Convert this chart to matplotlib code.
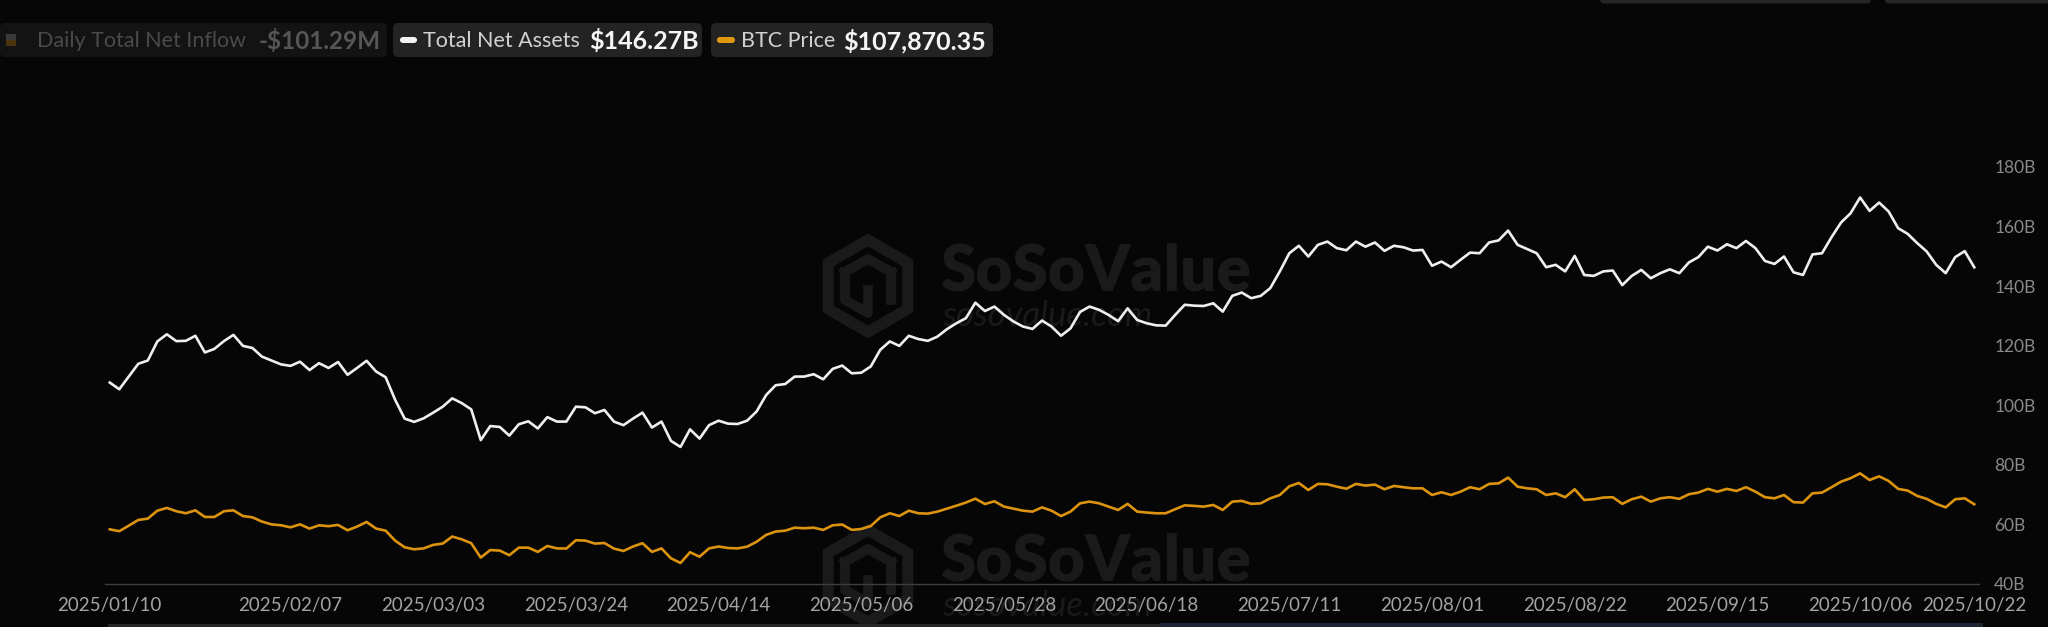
import numpy as np
import pandas as pd
import matplotlib
matplotlib.use('Agg')
import matplotlib.pyplot as plt
from matplotlib.patches import FancyBboxPatch, Rectangle, RegularPolygon

plt.rcParams['font.family'] = ['Lato', 'DejaVu Sans']

# trading days shown on the chart
start_date = '2025-01-10'
end_date = '2025-10-22'
us_holidays = ['2025-01-20', '2025-02-17', '2025-04-18', '2025-05-26',
               '2025-06-19', '2025-07-04', '2025-09-01']

tick_labels = ['2025/01/10', '2025/02/07', '2025/03/03', '2025/03/24', '2025/04/14',
               '2025/05/06', '2025/05/28', '2025/06/18', '2025/07/11', '2025/08/01',
               '2025/08/22', '2025/09/15', '2025/10/06', '2025/10/22']

# Total Net Assets (B USD)
total_net_assets = [
    107.6, 105.35, 109.6, 113.9, 115.0, 121.4, 123.8, 121.5, 121.6, 123.3,
    117.7, 118.9, 121.5, 123.6, 119.9, 119.2, 116.3, 115.0, 113.7, 113.2,
    114.6, 111.8, 114.1, 112.5, 114.5, 110.2, 112.5, 114.9, 111.3, 109.4,
    101.8, 95.5, 94.4, 95.6, 97.5, 99.5, 102.3, 100.7, 98.6, 88.3,
    93.0, 92.7, 89.8, 93.6, 94.6, 92.2, 96.0, 94.5, 94.5, 99.5,
    99.3, 97.3, 98.4, 94.5, 93.3, 95.5, 97.5, 92.5, 94.5, 88.0,
    86.0, 91.9, 88.8, 93.3, 94.8, 93.8, 93.7, 94.8, 97.9, 103.4,
    106.7, 107.1, 109.6, 109.6, 110.4, 108.7, 112.2, 113.3, 110.7, 110.9,
    113.0, 118.6, 121.4, 119.9, 123.3, 122.2, 121.6, 123.0, 125.5, 127.5,
    129.2, 134.4, 131.6, 133.1, 130.3, 128.1, 126.4, 125.6, 128.4, 126.4,
    123.3, 125.8, 131.3, 133.1, 132.0, 130.3, 128.2, 132.5, 128.6, 127.5,
    126.8, 126.7, 130.3, 133.7, 133.4, 133.3, 134.2, 131.4, 136.7, 137.8,
    135.9, 136.7, 139.3, 144.9, 151.0, 153.5, 149.9, 153.8, 154.9, 152.7,
    152.0, 154.9, 153.2, 154.6, 151.8, 153.5, 153.0, 151.9, 152.1, 146.8,
    148.2, 146.3, 148.8, 151.2, 151.0, 154.6, 155.3, 158.6, 153.8, 152.4,
    151.0, 146.3, 147.1, 144.9, 150.1, 143.7, 143.4, 144.9, 145.2, 140.3,
    143.4, 145.4, 142.6, 144.3, 145.6, 144.3, 147.9, 149.7, 153.2, 151.9,
    154.0, 152.7, 155.1, 152.7, 148.4, 147.4, 149.9, 144.6, 143.7, 150.6,
    151.0, 156.4, 161.3, 164.4, 169.7, 165.2, 168.0, 165.0, 159.4, 157.5,
    154.4, 151.6, 147.1, 144.3, 149.7, 151.7, 146.27,
]

# BTC price (thousand USD)
btc_price_k = [
    94.3, 93.3, 96.3, 99.4, 100.1, 104.4, 105.9, 104.1, 103.0, 104.6,
    101.0, 101.0, 104.1, 104.6, 101.5, 100.8, 98.5, 97.0, 96.5, 95.4,
    97.0, 94.7, 96.5, 96.0, 96.7, 93.8, 95.8, 98.3, 94.7, 93.6,
    88.2, 84.6, 83.5, 84.0, 85.9, 86.6, 90.4, 88.9, 86.8, 79.0,
    83.1, 82.8, 80.3, 84.4, 84.4, 82.1, 85.3, 84.0, 83.9, 88.4,
    88.2, 86.6, 86.9, 83.9, 82.6, 85.0, 86.8, 82.1, 84.0, 78.6,
    76.1, 81.9, 79.5, 84.0, 85.0, 84.2, 84.0, 84.9, 87.6, 91.3,
    93.1, 93.6, 95.2, 94.9, 95.2, 94.0, 96.5, 96.9, 94.0, 94.5,
    96.1, 100.8, 103.0, 101.5, 104.4, 103.0, 102.8, 103.9, 105.5, 107.1,
    108.8, 110.9, 108.0, 109.5, 106.6, 105.5, 104.4, 103.9, 106.2, 104.4,
    101.5, 103.9, 108.4, 109.3, 108.4, 106.6, 104.8, 108.1, 103.9, 103.4,
    103.0, 103.0, 105.2, 107.3, 107.0, 106.6, 107.5, 104.8, 109.3, 109.7,
    108.1, 108.4, 111.1, 112.9, 117.6, 119.4, 115.6, 118.9, 118.7, 117.4,
    116.3, 118.9, 118.0, 118.5, 116.0, 117.8, 117.1, 116.5, 116.5, 112.9,
    114.4, 112.9, 114.7, 117.1, 116.0, 118.9, 119.2, 122.3, 117.4, 116.5,
    116.0, 112.9, 113.8, 111.7, 116.0, 110.2, 110.6, 111.5, 111.7, 108.1,
    110.6, 112.0, 109.3, 111.1, 111.7, 110.8, 113.3, 114.2, 116.2, 114.7,
    116.2, 115.1, 117.1, 114.7, 111.7, 111.1, 112.9, 109.0, 108.8, 113.8,
    114.2, 117.1, 120.1, 122.0, 124.6, 121.0, 123.0, 120.5, 116.2, 115.3,
    112.4, 110.8, 108.1, 106.2, 110.6, 111.1, 107.87,
]

legend_inflow = '-$101.29M'
legend_assets = '$146.27B'
legend_btc = '$107,870.35'

dates = pd.bdate_range(start_date, end_date, freq='C', holidays=us_holidays)
date_str = [d.strftime('%Y/%m/%d') for d in dates]
x = np.arange(len(date_str))
tick_pos = [date_str.index(t) for t in tick_labels]

BG = '#060606'
W, H = 2048, 627
fig = plt.figure(figsize=(W / 100, H / 100), dpi=100, facecolor=BG)

# background layer in pixel coordinates (watermarks + legend)
bg = fig.add_axes([0, 0, 1, 1], zorder=0)
bg.set_xlim(0, W)
bg.set_ylim(H, 0)
bg.axis('off')

wm = '#1a1a1a'
for dy in (0, 290):
    bg.add_patch(RegularPolygon((868, 286 + dy), numVertices=6, radius=46,
                                orientation=0, fill=False, lw=8, ec=wm))
    bg.plot([845, 868, 891], [272 + dy, 259 + dy, 272 + dy], color=wm, lw=7)
    bg.plot([845, 845, 868, 868], [272 + dy, 300 + dy, 313 + dy, 290 + dy], color=wm, lw=7)
    bg.plot([891, 891], [272 + dy, 300 + dy], color=wm, lw=7)
    bg.text(940, 272 + dy, 'SoSoValue', color=wm, fontsize=46, fontweight='heavy',
            ha='left', va='center')
    bg.text(942, 316 + dy, 'sosovalue.com', color=wm, fontsize=25, style='italic',
            ha='left', va='center')

# legend chips
def chip(x0, x1, fc):
    bg.add_patch(FancyBboxPatch((x0, 23), x1 - x0, 34,
                                boxstyle='round,pad=0,rounding_size=5',
                                fc=fc, ec='none'))

chip(0, 387, '#131313')
bg.add_patch(Rectangle((6, 34), 10, 6, fc='#3a3a3a', ec='none'))
bg.add_patch(Rectangle((6, 40), 10, 6, fc='#4a3410', ec='none'))
bg.text(37, 41, 'Daily Total Net Inflow', color='#4a4a4a', fontsize=15.5, va='center')
bg.text(259, 41, legend_inflow, color='#565656', fontsize=17.5, fontweight='bold', va='center')

chip(393, 702, '#232323')
bg.add_patch(FancyBboxPatch((400, 37), 17, 6, boxstyle='round,pad=0,rounding_size=3',
                            fc='#f2f2f2', ec='none'))
bg.text(423, 41, 'Total Net Assets', color='#d2d2d2', fontsize=15.5, va='center')
bg.text(589, 41, legend_assets, color='#f5f5f5', fontsize=18, fontweight='bold', va='center')

chip(711, 993, '#232323')
bg.add_patch(FancyBboxPatch((717, 37), 18, 6, boxstyle='round,pad=0,rounding_size=3',
                            fc='#e09812', ec='none'))
bg.text(741, 41, 'BTC Price', color='#d2d2d2', fontsize=15.5, va='center')
bg.text(843, 41, legend_btc, color='#f5f5f5', fontsize=18, fontweight='bold', va='center')

# partial buttons at top right and range bar at the bottom
bg.add_patch(FancyBboxPatch((1600, -6), 271, 9.5, boxstyle='round,pad=0,rounding_size=4',
                            fc='#262626', ec='none'))
bg.add_patch(FancyBboxPatch((1885, -6), 175, 9.5, boxstyle='round,pad=0,rounding_size=4',
                            fc='#262626', ec='none'))
bg.add_patch(Rectangle((108, 624), 1052, 3, fc='#262626', ec='none'))
bg.add_patch(Rectangle((1160, 623), 823, 4, fc='#1c2532', ec='none'))

# main chart
left, right, top, bottom = 105, 1979, 137, 584
ax = fig.add_axes([left / W, 1 - bottom / H, (right - left) / W, (bottom - top) / H], zorder=2)
ax.patch.set_alpha(0)
ax.plot(x, total_net_assets, color='#efefef', lw=1.9)
ax.set_xlim(-0.5, len(x) - 0.5)
ax.set_ylim(40, 190)

# BTC price on its own hidden scale
ax2 = ax.twinx()
ax2.set_zorder(3)
ax2.patch.set_alpha(0)
ax2.plot(x, btc_price_k, color='#dc9410', lw=1.9)
ax2.set_ylim(64.72, 306.67)
ax2.set_yticks([])
for s in ax2.spines.values():
    s.set_visible(False)

yt = np.arange(40, 181, 20)
ax.yaxis.tick_right()
ax.set_yticks(yt)
ax.set_yticklabels([f'{v}B' for v in yt])
ax.tick_params(axis='y', which='both', left=False, right=False, labelleft=False,
               labelright=True, length=0, pad=11, labelsize=12.5, labelcolor='#8a8a8a')
ax.set_xticks(tick_pos)
ax.set_xticklabels(tick_labels)
ax.tick_params(axis='x', length=0, pad=9, labelsize=13.5, labelcolor='#a3a3a3')
for s in ['top', 'left', 'right']:
    ax.spines[s].set_visible(False)
ax.spines['bottom'].set_color('#3e3e3e')
ax.spines['bottom'].set_linewidth(1.0)

fig.savefig('out.png', dpi=100, facecolor=BG)
